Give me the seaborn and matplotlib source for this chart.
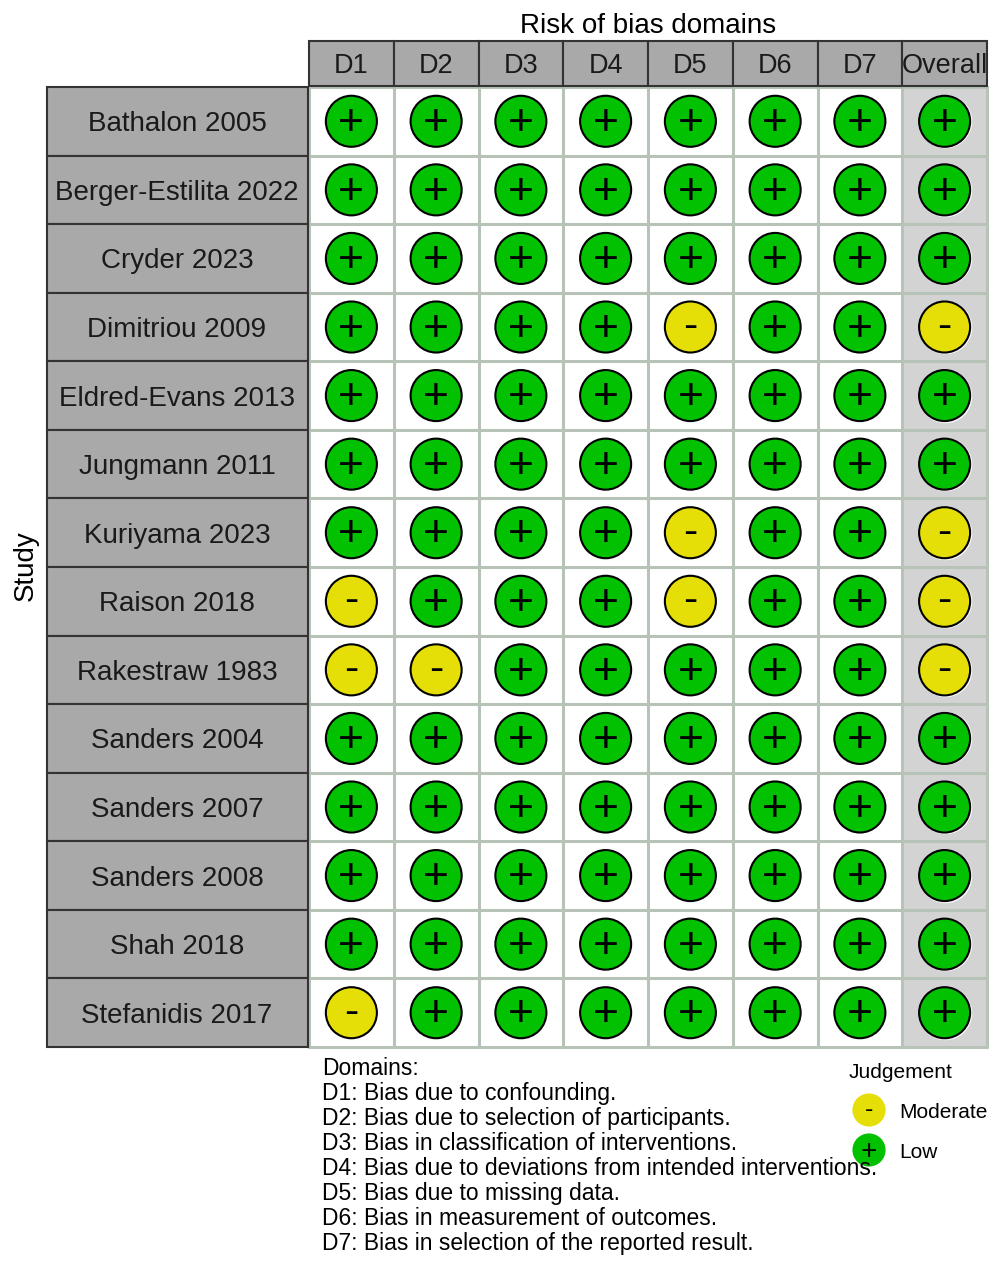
# Risk of bias traffic light plot.
import pandas as pd
import matplotlib
matplotlib.use("Agg")
import matplotlib.pyplot as plt
from matplotlib.patches import Rectangle
import seaborn as sns

studies = ["Bathalon 2005", "Berger-Estilita 2022", "Cryder 2023", "Dimitriou 2009",
           "Eldred-Evans 2013", "Jungmann 2011", "Kuriyama 2023", "Raison 2018",
           "Rakestraw 1983", "Sanders 2004", "Sanders 2007", "Sanders 2008",
           "Shah 2018", "Stefanidis 2017"]
domains = ["D1", "D2", "D3", "D4", "D5", "D6", "D7", "Overall"]

# One string per study, one letter per domain: L = low, M = moderate
judgements = ["LLLLLLLL", "LLLLLLLL", "LLLLLLLL", "LLLLMLLM", "LLLLLLLL", "LLLLLLLL", "LLLLMLLM",
              "MLLLMLLM", "MMLLLLLM", "LLLLLLLL", "LLLLLLLL", "LLLLLLLL", "LLLLLLLL", "MLLLLLLL"]

domain_notes = ["Domains:",
                "D1: Bias due to confounding.",
                "D2: Bias due to selection of participants.",
                "D3: Bias in classification of interventions.",
                "D4: Bias due to deviations from intended interventions.",
                "D5: Bias due to missing data.",
                "D6: Bias in measurement of outcomes.",
                "D7: Bias in selection of the reported result."]

colours = {"L": "#02C100", "M": "#E6DF07"}
symbols = {"L": "+", "M": "-"}
names = {"L": "Low", "M": "Moderate"}

W, H = 1000, 1268
STRIP = "#A9A9A9"
EDGE = "#333333"
GRID = "#B7C3B7"

sns.set_theme(style="white")
plt.rcParams["font.family"] = ["Liberation Sans", "DejaVu Sans"]

rows = []
for s, study in enumerate(studies):
    for d, dom in enumerate(domains):
        rows.append({"x": d, "y": s, "j": judgements[s][d]})
df = pd.DataFrame(rows)

fig = plt.figure(figsize=(W / 100, H / 100), dpi=100)
ax = fig.add_axes([309 / W, 1 - 1047 / H, 678 / W, 960 / H])
ax.set_xlim(-0.5, 7.5)
ax.set_ylim(13.5, -0.5)

# Overall column and panel grid
ax.add_patch(Rectangle((6.5, -0.5), 1, 14, color="#D3D3D3", lw=0, zorder=0))
for i in range(9):
    ax.axvline(i - 0.5, color=GRID, lw=2.2, zorder=1, clip_on=False)
for i in range(15):
    ax.axhline(i - 0.5, color=GRID, lw=2.2, zorder=1, clip_on=False)

# White halo behind the overall judgements
sns.scatterplot(data=df[df.x == 7], x="x", y="y", s=1480, color="white", linewidth=0,
                legend=False, ax=ax, zorder=2)
sns.scatterplot(data=df, x="x", y="y", hue="j", palette=colours, s=1350, edgecolor="black",
                linewidth=1.5, legend=False, ax=ax, zorder=3)

for _, r in df.iterrows():
    ax.annotate(symbols[r.j], (r.x, r.y), xytext=(0, -1.6 if r.j == "L" else 0), textcoords="offset points",
                ha="center", va="center", fontsize=32 if r.j == "L" else 31, color="black", zorder=4)

ax.set_xlabel("")
ax.set_ylabel("")
ax.set_xticks([])
ax.set_yticks([])
sns.despine(ax=ax, left=True, bottom=True)

# Overlay in pixel coordinates for strips, titles and legend
ov = fig.add_axes([0, 0, 1, 1], zorder=5)
ov.set_xlim(0, W)
ov.set_ylim(H, 0)
ov.axis("off")
ov.patch.set_alpha(0)

col_w = 678 / len(domains)
for d, dom in enumerate(domains):
    x0 = 309 + d * col_w
    ov.add_patch(Rectangle((x0, 40.5), col_w, 45, fc=STRIP, ec=EDGE, lw=1.5))
    ov.text(x0 + col_w / 2, 66, dom, ha="center", va="center", fontsize=19.5, color="#1A1A1A")

row_h = 960 / len(studies)
for s, study in enumerate(studies):
    y0 = 87 + s * row_h
    ov.add_patch(Rectangle((46.5, y0), 261, row_h, fc=STRIP, ec=EDGE, lw=1.5))
    ov.text(177, y0 + row_h / 2 + 3, study, ha="center", va="center", fontsize=20, color="#1A1A1A")

ov.text(648, 26, "Risk of bias domains", ha="center", va="center", fontsize=20, color="black")
ov.text(26, 566, "Study", ha="center", va="center", rotation=90, fontsize=20, color="black")

for i, line in enumerate(domain_notes):
    ov.text(322, 1068.5 + i * 25, line, ha="left", va="center", fontsize=16.5, color="black")

# Judgement legend
ov.text(849, 1073, "Judgement", ha="left", va="center", fontsize=15, color="black")
legend_df = pd.DataFrame({"x": [869, 869], "y": [1110, 1150], "j": ["M", "L"]})
sns.scatterplot(data=legend_df, x="x", y="y", hue="j", palette=colours, s=570, linewidth=0,
                legend=False, ax=ov, zorder=1)
ov.set_xlabel("")
ov.set_ylabel("")
for _, r in legend_df.iterrows():
    ov.text(r.x, r.y + (2 if r.j == "L" else 0), symbols[r.j], ha="center", va="center",
            fontsize=20 if r.j == "L" else 18, color="black")
    ov.text(899, r.y + 2, names[r.j], ha="left", va="center", fontsize=15, color="black")

fig.savefig("out.png", dpi=100)
